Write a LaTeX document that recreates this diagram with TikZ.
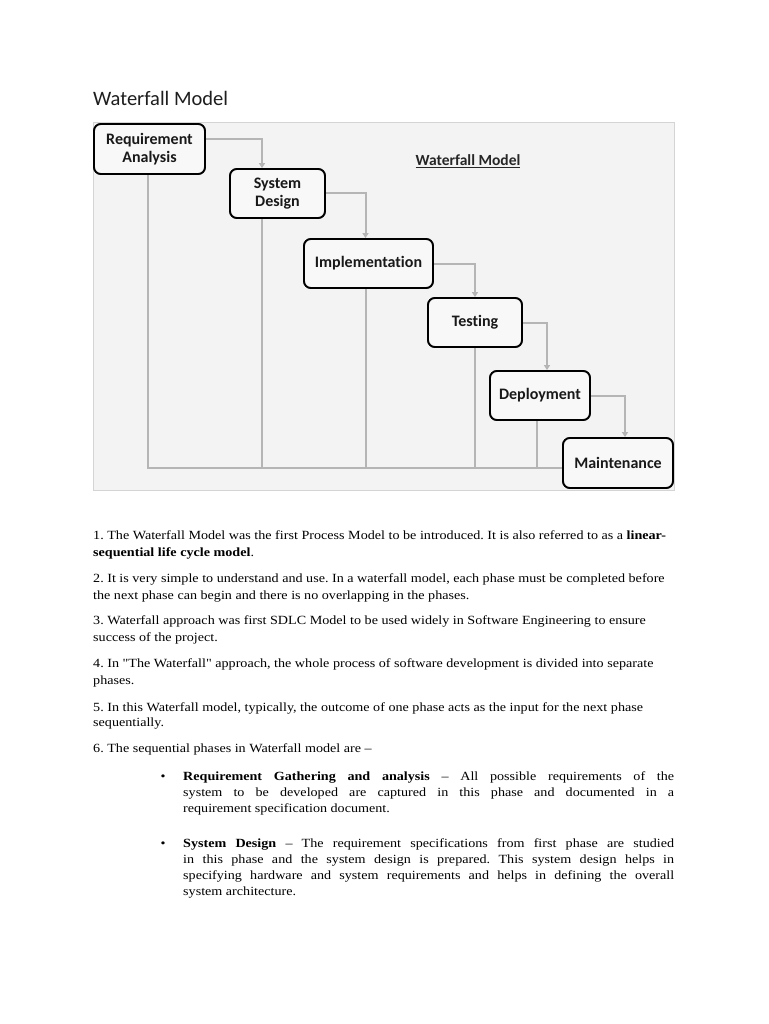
\documentclass[tikz,border=0pt]{standalone}
\usepackage{fontspec}
\setmainfont{Liberation Serif}[FakeStretch=1.13]
\newfontfamily\rawserif{Liberation Serif}[FakeStretch=1.13]
\newfontfamily\calibri{Carlito}[Ligatures=NoCommon]
\usetikzlibrary{arrows.meta}
\definecolor{framebg}{HTML}{F3F3F3}
\definecolor{frameline}{HTML}{D4D4D4}
\definecolor{boxfill}{HTML}{F8F8F8}
\definecolor{flowgray}{HTML}{B5B5B5}
\definecolor{titlegray}{HTML}{1E1E1E}
\tikzset{
  phasebox/.style={draw=black, line width=1.8pt, rounded corners=7pt, fill=boxfill,
    font=\calibri\bfseries\fontsize{16}{17.5}\selectfont, align=center, inner sep=0pt, text=black!90},
  flow/.style={draw=flowgray, line width=2pt, -{Triangle[width=6pt,length=5pt]}},
  feedback/.style={draw=flowgray, line width=2pt},
  txt/.style={anchor=base west, inner sep=0pt, font=\fontsize{12.5}{14}\selectfont\frenchspacing, text=black},
  bul/.style={anchor=base, inner sep=0pt, font=\fontsize{12.5}{14}\selectfont, text=black}
}
\newcommand{\jline}[1]{\makebox[491pt][s]{#1}}
\newcommand{\sq}{{\rawserif"}}
\begin{document}
\begin{tikzpicture}[x=1pt,y=-1pt]
\useasboundingbox (0,0) rectangle (768,1024);
\fill[white] (0,0) rectangle (768,1024);

% title
\node[anchor=base west, inner sep=0pt, font=\calibri\fontsize{20.5}{24}\selectfont, text=titlegray] (title) at (93,106) {Waterfall Model};

% diagram frame
\fill[framebg] (93,123) rectangle (674,490);
\draw[frameline, line width=1pt] (93,490) -- (93,123) -- (674,123) -- (674,490) -- cycle;

\node[font=\calibri\bfseries\fontsize{15.5}{17}\selectfont, text=black!85] (lbl) at (468,161) {\underline{Waterfall Model}};

% phase boxes
\node[phasebox, minimum width=111pt, minimum height=50pt] (req) at (149.5,149) {Requirement\\Analysis};
\node[phasebox, minimum width=95pt, minimum height=49pt] (sd) at (277.5,193.5) {System\\Design};
\node[phasebox, minimum width=129pt, minimum height=49pt] (impl) at (368.5,263.5) {Implementation};
\node[phasebox, minimum width=94pt, minimum height=49pt] (test) at (475,322.5) {Testing};
\node[phasebox, minimum width=100pt, minimum height=49pt] (dep) at (540,395.5) {Deployment};
\node[phasebox, minimum width=110pt, minimum height=50pt] (maint) at (618,463) {Maintenance};

% feedback lines
\coordinate (base) at (148,468);
\draw[feedback] ([xshift=-1.5pt]req.south) |- ([yshift=-5pt]maint.west);
\draw[feedback] ([xshift=-16pt]sd.south) -- ([xshift=-16pt]sd.south |- base);
\draw[feedback] ([xshift=-2.5pt]impl.south) -- ([xshift=-2.5pt]impl.south |- base);
\draw[feedback] (test.south) -- (test.south |- base);
\draw[feedback] ([xshift=-3pt]dep.south) -- ([xshift=-3pt]dep.south |- base);

% flow arrows
\draw[flow] ([yshift=10pt]req.east) -| ([xshift=-15.5pt]sd.north);
\draw[flow] (sd.east) -| ([xshift=-3pt]impl.north);
\draw[flow] (impl.east) -| (test.north);
\draw[flow] (test.east) -| ([xshift=7pt]dep.north);
\draw[flow] (dep.east) -| ([xshift=7pt]maint.north);

% redraw boxes on top
\node[phasebox, minimum width=111pt, minimum height=50pt] at (req) {Requirement\\Analysis};
\node[phasebox, minimum width=95pt, minimum height=49pt] at (sd) {System\\Design};
\node[phasebox, minimum width=129pt, minimum height=49pt] at (impl) {Implementation};
\node[phasebox, minimum width=94pt, minimum height=49pt] at (test) {Testing};
\node[phasebox, minimum width=100pt, minimum height=49pt] at (dep) {Deployment};
\node[phasebox, minimum width=110pt, minimum height=50pt] at (maint) {Maintenance};

% body text
\node[txt] (p1a) at (93,539.3) {1. The Waterfall Model was the first Process Model to be introduced. It is also referred to as a \textbf{linear-}};
\node[txt] (p1b) at (93,556) {\textbf{sequential life cycle model}.};
\node[txt] (p2a) at (93,582.7) {2. It is very simple to understand and use. In a waterfall model, each phase must be completed before};
\node[txt] (p2b) at (93,599.3) {the next phase can begin and there is no overlapping in the phases.};
\node[txt] (p3a) at (93,624.3) {3. Waterfall approach was first SDLC Model to be used widely in Software Engineering to ensure};
\node[txt] (p3b) at (93,641) {success of the project.};
\node[txt] (p4a) at (93,667.7) {4. In \sq The Waterfall\sq{} approach, the whole process of software development is divided into separate};
\node[txt] (p4b) at (93,684.3) {phases.};
\node[txt] (p5a) at (93,711) {5. In this Waterfall model, typically, the outcome of one phase acts as the input for the next phase};
\node[txt] (p5b) at (93,726.7) {sequentially.};
\node[txt] (p6) at (93,752.7) {6. The sequential phases in Waterfall model are \textendash};

% bullets
\node[bul] (b1) at (163,780.7) {•};
\node[txt] (b1a) at (183,780.7) {\jline{\textbf{Requirement Gathering and analysis} \textendash{} All possible requirements of the}};
\node[txt] (b1b) at (183,796.7) {\jline{system to be developed are captured in this phase and documented in a}};
\node[txt] (b1c) at (183,812.7) {requirement specification document.};
\node[bul] (b2) at (163,847.3) {•};
\node[txt] (b2a) at (183,847.3) {\jline{\textbf{System Design} \textendash{} The requirement specifications from first phase are studied}};
\node[txt] (b2b) at (183,863.3) {\jline{in this phase and the system design is prepared. This system design helps in}};
\node[txt] (b2c) at (183,879.3) {\jline{specifying hardware and system requirements and helps in defining the overall}};
\node[txt] (b2d) at (183,895) {system architecture.};
\end{tikzpicture}
\end{document}
